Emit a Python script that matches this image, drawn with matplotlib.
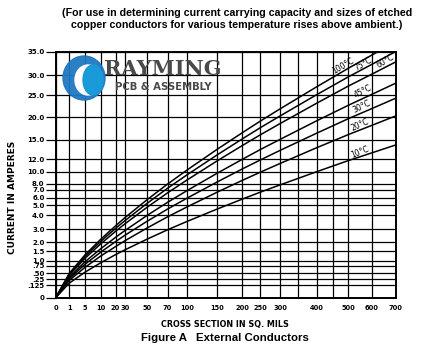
import numpy as np
import matplotlib
matplotlib.use("Agg")
import matplotlib.pyplot as plt
from matplotlib.patches import Ellipse

# ---- data ----
x_ticks = [0, 1, 5, 10, 20, 30, 50, 70, 100, 150, 200, 250, 300, 400, 500, 600, 700]
x_tick_labels = ["0", "1", "5", "10", "20", "30", "50", "70", "100", "150", "200", "250",
                 "300", "400", "500", "600", "700"]
y_ticks = [0, .125, .25, .5, .75, 1, 1.5, 2, 3, 4, 5, 6, 7, 8, 10, 12, 15, 20, 25, 30, 35]
y_tick_labels = ["0", ".125", ".25", ".50", ".75", "1.0", "1.5", "2.0", "3.0", "4.0", "5.0",
                 "6.0", "7.0", "8.0", "10.0", "12.0", "15.0", "20.0", "25.0", "30.0", "35.0"]
x_extra_grid = [350, 450]

# values (sq. mils -> amperes)
curve_x = [0, 1, 5, 10, 20, 30, 50, 70, 100, 150, 200, 250, 300, 400, 500, 600, 700]
amps_10 = [0, .167, .539, .901, 1.31, 1.56, 2.25, 2.96, 3.54, 4.6, 5.77, 6.67, 7.84, 10.0, 11.79, 13.01, 14.22]
amps_20 = [0, .226, .705, 1.24, 1.75, 2.11, 3.10, 3.87, 4.79, 6.69, 8.57, 9.90, 11.32, 13.80, 16.19, 18.24, 20.29]
amps_30 = [0, .275, .83, 1.44, 2.05, 2.53, 3.57, 4.59, 5.89, 8.34, 10.42, 11.87, 13.38, 16.50, 19.69, 21.97, 24.26]
amps_45 = [0, .338, .948, 1.63, 2.38, 2.89, 3.98, 5.35, 6.86, 9.76, 11.97, 13.49, 15.13, 19.23, 22.69, 25.18, 27.93]
amps_60 = [0, .421, 1.12, 1.91, 2.84, 3.37, 4.79, 6.59, 8.62, 11.76, 14.11, 16.10, 18.61, 23.16, 27.23, 30.19, 32.79]
amps_75 = [0, .463, 1.22, 2.07, 3.06, 3.59, 5.24, 7.25, 9.45, 12.70, 15.20, 17.67, 20.29, 25.08, 29.53, 32.30, 35.0]
curve_x_100 = [0, 1, 5, 10, 20, 30, 50, 70, 100, 150, 200, 250, 300, 400, 500, 625]
amps_100 = [0, .50, 1.30, 2.23, 3.24, 3.80, 5.73, 7.98, 10.23, 13.57, 16.56, 19.12, 21.88, 27.05, 31.44, 35.0]

series = [("10°C", curve_x, amps_10), ("20°C", curve_x, amps_20), ("30°C", curve_x, amps_30),
          ("45°C", curve_x, amps_45), ("60°C", curve_x, amps_60), ("75°C", curve_x, amps_75),
          ("100°C", curve_x_100, amps_100)]

# label anchors (data coords) and angles
label_pos = {"10°C": (550, 13.1, 22), "20°C": (550, 18.3, 24), "30°C": (555, 22.4, 26),
             "45°C": (560, 25.9, 27), "100°C": (483, 31.9, 30), "75°C": (562, 32.3, 30),
             "60°C": (655, 33.0, 30)}

# ---- non-linear axis layout (pixel positions of ticks in the printed chart) ----
x_pix = np.array([55.7, 69.3, 85, 100.7, 115.5, 124.7, 147.3, 167.5, 186.7, 217.3, 242, 260,
                  280, 316.7, 348.3, 372, 395.5])
y_pix = -np.array([297.7, 285, 279.3, 273.3, 266, 260.7, 251, 242.3, 229.3, 215, 205, 197.5,
                   189.7, 184, 171.7, 159.3, 140, 117.3, 95, 75, 51.7])
xt = np.array(x_ticks, float)
yt = np.array(y_ticks, float)

def fx(v):
    return np.interp(v, xt, x_pix)

def fxi(p):
    return np.interp(p, x_pix, xt)

def fy(v):
    return np.interp(v, yt, y_pix)

def fyi(p):
    return np.interp(p, y_pix, yt)

W, H = 425, 355
fig = plt.figure(figsize=(W / 100, H / 100), dpi=100)
ax = fig.add_axes([55.7 / W, 1 - 297.7 / H, (395.5 - 55.7) / W, (297.7 - 51.7) / H])
ax.set_xscale("function", functions=(fx, fxi))
ax.set_yscale("function", functions=(fy, fyi))
ax.set_xlim(0, 700)
ax.set_ylim(0, 35)

for v in list(x_ticks) + x_extra_grid:
    ax.axvline(v, color="black", lw=0.9, zorder=1)
for v in y_ticks:
    ax.axhline(v, color="black", lw=0.9, zorder=1)

for name, xs, ys in series:
    ax.plot(xs, ys, color="black", lw=1.1, zorder=3, solid_joinstyle="round")
    lx, ly, rot = label_pos[name]
    ax.text(lx, ly, name, fontsize=5.5, rotation=rot, ha="center", va="center",
            family="DejaVu Sans", zorder=4)

ax.set_xticks(x_ticks, labels=x_tick_labels)
ax.set_yticks(y_ticks, labels=y_tick_labels)
ax.minorticks_off()
ax.tick_params(axis="x", length=0, pad=5, labelsize=4.8)
ax.tick_params(axis="y", length=7, width=0.9, pad=1, labelsize=5)
for lab in ax.get_xticklabels() + ax.get_yticklabels():
    lab.set_fontweight("bold")
for s in ax.spines.values():
    s.set_linewidth(1.4)

ax.set_xlabel("CROSS SECTION IN SQ. MILS", fontsize=5.8, fontweight="bold")
ax.xaxis.set_label_coords((225 - 55.7) / (395.5 - 55.7), -(320 - 297.7) / (297.7 - 51.7))
ax.set_ylabel("CURRENT IN AMPERES", fontsize=6.5, fontweight="bold")
ax.yaxis.set_label_coords(-(55.7 - 17) / (395.5 - 55.7), (297.7 - 197) / (297.7 - 51.7))

fig.text(237 / W, 1 - 12.5 / H, "(For use in determining current carrying capacity and sizes of etched",
         ha="center", va="center", fontsize=7.7, fontweight="bold", family="Liberation Sans")
fig.text(237 / W, 1 - 25.5 / H, "copper conductors for various temperature rises above ambient.)",
         ha="center", va="center", fontsize=7.7, fontweight="bold", family="Liberation Sans")
fig.text(225 / W, 1 - 338 / H, "Figure A   External Conductors", ha="center", va="center",
         fontsize=8.2, fontweight="bold", family="Liberation Sans")

# watermark logo
fig.patches.append(Ellipse((84 / W, 1 - 78 / H), 42 / W, 44 / H, transform=fig.transFigure,
                           color="#1f78c1", alpha=0.95, zorder=5))
fig.patches.append(Ellipse((88 / W, 1 - 80 / H), 26 / W, 30 / H, transform=fig.transFigure,
                           color="white", zorder=6))
fig.patches.append(Ellipse((93 / W, 1 - 80 / H), 20 / W, 30 / H, transform=fig.transFigure,
                           color="#1a9ad9", zorder=7))
fig.text(163 / W, 1 - 69 / H, "RAYMING", ha="center", va="center", fontsize=15,
         fontweight="bold", family="DejaVu Serif", color="#4a4a4a", zorder=8)
fig.text(163 / W, 1 - 87 / H, "PCB & ASSEMBLY", ha="center", va="center", fontsize=7.3,
         fontweight="bold", family="DejaVu Sans", color="#4a4a4a", zorder=8)

fig.savefig("out.png", dpi=100)
